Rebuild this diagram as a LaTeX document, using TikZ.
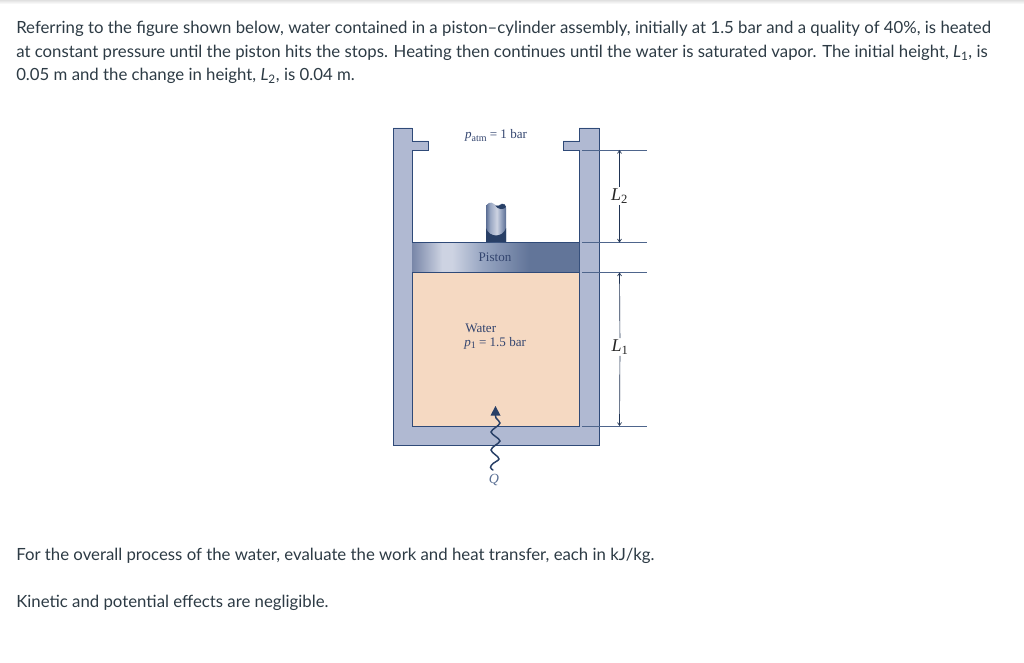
\documentclass[tikz,border=0pt]{standalone}
\usepackage{fontspec}
\setmainfont{Lato}
\newfontfamily\figserif{Liberation Serif}
\usetikzlibrary{arrows.meta}
\definecolor{wallblue}{HTML}{B0B9D2}
\definecolor{edgeblue}{HTML}{2F4A78}
\definecolor{waterfill}{HTML}{F5D9C2}
\definecolor{labelblue}{HTML}{33456F}
\definecolor{textgrey}{HTML}{2D3B45}
\definecolor{pd}{HTML}{627599}
\definecolor{pe}{HTML}{7886A8}
\definecolor{pl}{HTML}{CDD3E2}
\definecolor{pm}{HTML}{98A6C2}
\definecolor{rd}{HTML}{5A6D93}
\pgfdeclarehorizontalshading{pistonshade}{100bp}{
 color(0bp)=(pe);color(25bp)=(pe);color(34bp)=(pl);color(37bp)=(pl);
 color(46bp)=(pm);color(60bp)=(pd);color(100bp)=(pd)}
\pgfdeclarehorizontalshading{rodshade}{100bp}{
 color(0bp)=(rd);color(25bp)=(rd);color(35bp)=(pm);color(52bp)=(pl);color(62bp)=(pm);color(75bp)=(rd);color(100bp)=(rd)}
\tikzset{
 x=0.75pt,y=-0.75pt,
 para/.style={anchor=base west,inner sep=0pt,font=\fontsize{12.58pt}{14pt}\selectfont,text=textgrey},
 figlabel/.style={inner sep=0pt,font=\figserif\fontsize{9.8pt}{11pt}\selectfont,text=labelblue},
 dimlabel/.style={inner sep=1pt,font=\figserif\itshape\fontsize{13.5pt}{14pt}\selectfont,text=black!85},
 wall/.style={fill=wallblue,draw=edgeblue,line width=0.6pt},
 ext/.style={draw=edgeblue!85,line width=0.6pt},
 dim/.style={draw=edgeblue!70!black,line width=0.5pt,-{Straight Barb[length=2.2pt,width=3pt]}},
}
\begin{document}
\begin{tikzpicture}
\useasboundingbox (0,0) rectangle (1024,663);
\fill[white] (0,0) rectangle (1024,663);
\shade[top color=black!12,bottom color=white] (0,0) rectangle (1024,4);
% paragraph
\node[para] (t1) at (16,34) {Referring to the figure shown below, water contained in a piston–cylinder assembly, initially at 1.5 bar and a quality of 40\%, is heated};
\node[para] (t2) at (16,57.5) {at constant pressure until the piston hits the stops. Heating then continues until the water is saturated vapor. The initial height, \textit{L}\textsubscript{1}, is};
\node[para] (t3) at (16,80.5) {0.05 m and the change in height, \textit{L}\textsubscript{2}, is 0.04 m.};
\node[para] (t4) at (16,560) {For the overall process of the water, evaluate the work and heat transfer, each in kJ/kg.};
\node[para] (t5) at (16,607) {Kinetic and potential effects are negligible.};
% water
\fill[waterfill] (412,272) rectangle (579,426);
% cylinder
\draw[wall] (393,128) -- (412,128) -- (412,141) -- (428,141) -- (428,150) -- (412,150)
 -- (412,426) -- (579,426) -- (579,150) -- (563,150) -- (563,141) -- (579,141) -- (579,128)
 -- (599,128) -- (599,445) -- (393,445) -- cycle;
% piston
\shade[shading=pistonshade] (412,242.5) rectangle (579,272.5);
\draw[edgeblue,line width=0.5pt] (412,242.5) -- (579,242.5) (412,272.5) -- (579,272.5);
% rod
\shade[shading=rodshade] (486,242) -- (486,208) .. controls (486,203) and (491,201) .. (494,204)
 .. controls (497,207) and (500,205) .. (502,203.5) .. controls (504,203) and (506,205) .. (506,208) -- (506,242) -- cycle;
\fill[edgeblue!85!black] (486,242) -- (486,228) .. controls (489,238) and (503,238) .. (506,228) -- (506,242) -- cycle;
\fill[edgeblue!85!black] (495,205.5) .. controls (498,207) and (500,205) .. (502,204) .. controls (504,203.5) and (506,205) .. (506,207) .. controls (504,210) and (498,210) .. (495,205.5) -- cycle;
% figure labels
\node[figlabel,anchor=base] (patm) at (496,139) {\textit{p}\raisebox{-0.4ex}{\fontsize{7.5pt}{8pt}\selectfont atm} = 1 bar};
\node[figlabel] (pist) at (495,257) {Piston};
\node[figlabel,anchor=base west] (wat) at (465,332) {Water};
\node[figlabel,anchor=base west] (p1) at (464,346.5) {\textit{p}\raisebox{-0.4ex}{\fontsize{7.5pt}{8pt}\selectfont 1} = 1.5 bar};
\node[figlabel,font=\figserif\itshape\fontsize{10.5pt}{11pt}\selectfont,text=edgeblue!80] (q) at (494,480) {Q};
% extension lines
\coordinate (e1a) at (582,150); \coordinate (e1b) at (647,150);
\coordinate (e2a) at (582,242.5); \coordinate (e2b) at (647,242.5);
\coordinate (e3a) at (582,272.5); \coordinate (e3b) at (647,272.5);
\coordinate (e4a) at (582,426); \coordinate (e4b) at (647,426);
\draw[ext] (e1a) -- (e1b); \draw[ext] (e2a) -- (e2b); \draw[ext] (e3a) -- (e3b); \draw[ext] (e4a) -- (e4b);
% dimensions
\node[dimlabel] (l2) at (619.5,196) {L\textsubscript{\upshape 2}};
\node[dimlabel] (l1) at (620,347) {L\textsubscript{\upshape 1}};
\coordinate (d1) at (619.5,150); \coordinate (d2) at (619.5,242.5);
\coordinate (d3) at (619.5,272.5); \coordinate (d4) at (619.5,426);
\draw[dim] (l2) -- (d1); \draw[dim] (l2) -- (d2);
\draw[dim] (l1) -- (d3); \draw[dim] (l1) -- (d4);
% heat
\coordinate (qtip) at (495.5,406);
\draw[edgeblue!85!black,line width=1.1pt,line cap=round] plot[smooth,tension=0.7] coordinates {
 (493,470) (490.5,467.5) (493,463.5) (499,459) (495,454.5) (491,450) (495,445.5) (500,441) (495.5,436.5) (491,432) (495.5,427.5) (500,423) (496,418) (495.5,414)};
\fill[edgeblue!85!black] (qtip) -- (500.5,415.5) -- (490.5,415.5) -- cycle;
\end{tikzpicture}
\end{document}
